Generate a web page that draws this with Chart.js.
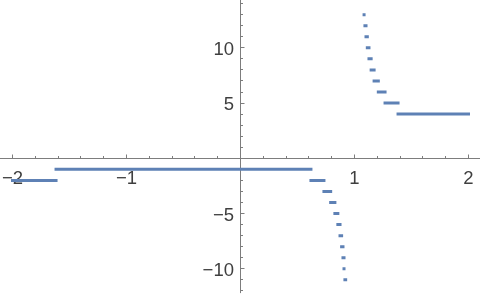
<!DOCTYPE html>
<html>
<head>
<meta charset="utf-8">
<script src="https://cdn.jsdelivr.net/npm/chart.js@4"></script>
<style>
  html, body { margin: 0; padding: 0; background: #fff; }
  #wrap { width: 480px; height: 298px; }
</style>
</head>
<body>
<div id="wrap"><canvas id="stepChart"></canvas></div>
<script>
// step pieces: x start, x end, level
const segStart = [-2, -1.618, 0.618, 0.732, 0.791, 0.828, 0.854, 0.873, 0.887, 0.899, 0.908, 0.916,
                  1.084, 1.0916, 1.101, 1.1125, 1.127, 1.146, 1.172, 1.209, 1.268, 1.382];
const segEnd = [-1.618, 0.618, 0.732, 0.791, 0.828, 0.854, 0.873, 0.887, 0.899, 0.908, 0.916, 0.9225,
                1.0916, 1.101, 1.1125, 1.127, 1.146, 1.172, 1.209, 1.268, 1.382, 2];
const segLevel = [-2, -1, -2, -3, -4, -5, -6, -7, -8, -9, -10, -11,
                  13, 12, 11, 10, 9, 8, 7, 6, 5, 4];

const xTickLabels = [-2, -1, 1, 2];
const yTickLabels = [-10, -5, 5, 10];

const AXIS_COLOR = "#7d7d7d";
const TEXT_COLOR = "#3f3f3f";
const FONT = "18.5px 'Liberation Sans', Arial, sans-serif";

// one dataset, pieces split by null gaps
const points = [];
segStart.forEach((s, i) => {
  points.push({ x: s, y: segLevel[i] });
  points.push({ x: segEnd[i], y: segLevel[i] });
  points.push({ x: segEnd[i], y: null });
});

function fmt(v) {
  return v < 0 ? "\u2212" + Math.abs(v) : String(v);
}

const mathAxes = {
  id: "mathAxes",
  beforeDatasetsDraw(chart) {
    const { ctx, chartArea, scales } = chart;
    const xs = scales.x, ys = scales.y;
    const x0 = Math.floor(xs.getPixelForValue(0)) + 0.5;
    const y0 = Math.floor(ys.getPixelForValue(0)) + 0.5;
    const yBottom = ys.getPixelForValue(-12.2);

    ctx.save();
    ctx.strokeStyle = AXIS_COLOR;
    ctx.lineWidth = 1;
    ctx.beginPath();
    ctx.moveTo(chartArea.left, y0);
    ctx.lineTo(chartArea.right, y0);
    ctx.moveTo(x0, chartArea.top);
    ctx.lineTo(x0, yBottom);

    // x ticks every 0.2, pointing up
    for (let k = -10; k <= 10; k++) {
      if (k === 0) continue;
      const px = Math.floor(xs.getPixelForValue(k / 5)) + 0.5;
      const len = k % 5 === 0 ? 4 : 2.5;
      ctx.moveTo(px, y0);
      ctx.lineTo(px, y0 - len);
    }
    // y ticks every 1, pointing right
    for (let v = -12; v <= 14; v++) {
      if (v === 0) continue;
      const py = Math.floor(ys.getPixelForValue(v)) + 0.5;
      const len = v % 5 === 0 ? 4 : 2.5;
      ctx.moveTo(x0, py);
      ctx.lineTo(x0 + len, py);
    }
    ctx.stroke();

    ctx.fillStyle = TEXT_COLOR;
    ctx.font = FONT;
    ctx.textBaseline = "alphabetic";
    ctx.textAlign = "center";
    xTickLabels.forEach((v) => {
      ctx.fillText(fmt(v), xs.getPixelForValue(v), y0 + 25);
    });
    ctx.textAlign = "right";
    yTickLabels.forEach((v) => {
      ctx.fillText(fmt(v), x0 - 6.5, ys.getPixelForValue(v) + 7);
    });
    ctx.restore();
  },
};

new Chart(document.getElementById("stepChart"), {
  type: "scatter",
  data: {
    datasets: [
      {
        data: points,
        showLine: true,
        spanGaps: false,
        borderColor: "#5e81b5",
        borderWidth: 3,
        borderCapStyle: "square",
        pointRadius: 0,
        pointHoverRadius: 0,
      },
    ],
  },
  options: {
    responsive: true,
    maintainAspectRatio: false,
    animation: false,
    layout: { padding: 0 },
    plugins: {
      legend: { display: false },
      tooltip: { enabled: false },
    },
    scales: {
      x: { type: "linear", min: -2.1096, max: 2.1009, display: false },
      y: { type: "linear", min: -12.643, max: 14.326, display: false },
    },
  },
  plugins: [mathAxes],
});
</script>
</body>
</html>
